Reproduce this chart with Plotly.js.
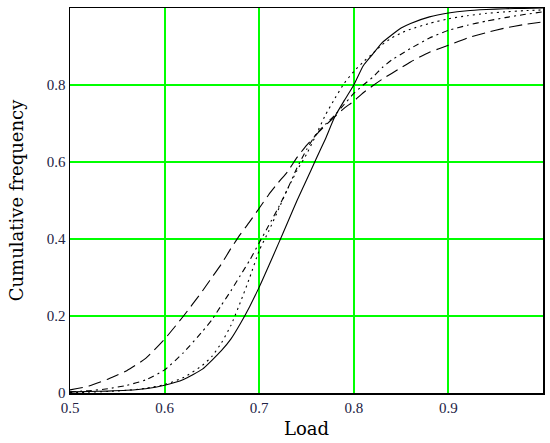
<!DOCTYPE html>
<html>
<head>
<meta charset="utf-8">
<script src="https://cdn.plot.ly/plotly-3.0.1.min.js"></script>
<style>html,body{margin:0;padding:0;background:#fff;}#chart{width:550px;height:443px;}</style>
</head>
<body>
<div id="chart"></div>
<script>
const loadX = [0.50,0.52,0.54,0.56,0.58,0.60,0.62,0.64,0.65,0.66,0.67,0.68,0.69,0.70,0.71,0.72,0.73,0.74,0.75,0.76,0.77,0.78,0.79,0.80,0.81,0.82,0.83,0.84,0.85,0.86,0.88,0.90,0.92,0.94,0.96,0.98,1.00];

const solidY   = [0.003,0.004,0.005,0.007,0.011,0.020,0.035,0.062,0.085,0.110,0.140,0.180,0.225,0.275,0.330,0.386,0.443,0.500,0.553,0.607,0.660,0.718,0.760,0.800,0.850,0.880,0.910,0.930,0.948,0.960,0.977,0.987,0.993,0.996,0.998,0.999,1.000];
const dottedY  = [0.001,0.002,0.004,0.007,0.012,0.022,0.040,0.072,0.095,0.130,0.175,0.235,0.300,0.370,0.420,0.475,0.530,0.578,0.620,0.670,0.722,0.765,0.805,0.835,0.860,0.882,0.905,0.922,0.935,0.945,0.960,0.972,0.980,0.986,0.990,0.993,0.995];
const dashDotY = [0.003,0.006,0.011,0.020,0.034,0.060,0.105,0.160,0.190,0.228,0.265,0.305,0.345,0.390,0.435,0.480,0.530,0.585,0.632,0.672,0.698,0.722,0.750,0.778,0.800,0.820,0.845,0.865,0.880,0.895,0.922,0.942,0.955,0.966,0.975,0.983,0.990];
const longDashY= [0.008,0.018,0.036,0.058,0.090,0.140,0.200,0.265,0.300,0.335,0.375,0.412,0.445,0.480,0.515,0.546,0.575,0.612,0.643,0.670,0.695,0.718,0.740,0.758,0.780,0.798,0.815,0.830,0.845,0.860,0.885,0.903,0.922,0.936,0.948,0.957,0.964];

const xTicks = [0.5,0.6,0.7,0.8,0.9];
const xTickText = ['0.5','0.6','0.7','0.8','0.9'];
const yTicks = [0,0.2,0.4,0.6,0.8];
const yTickText = ['0','0.2','0.4','0.6','0.8'];

function tr(y, dash){
  return {x: loadX, y: y, type: 'scatter', mode: 'lines',
    line: {color: '#000', width: 1.1, dash: dash, shape: 'spline', smoothing: 0.5},
    hoverinfo: 'skip', showlegend: false};
}

const data = [
  tr(longDashY, '13px,6px'),
  tr(dashDotY, '6px,4px,2px,4px'),
  tr(dottedY, '2px,4px'),
  tr(solidY, 'solid')
];

const tickFont = {family: 'Liberation Serif, Times New Roman, serif', size: 15, color: '#222244'};
const titleFont = {family: 'DejaVu Serif, serif', size: 18, color: '#000'};

const layout = {
  width: 550, height: 443,
  margin: {l: 70, r: 7, t: 8, b: 50},
  paper_bgcolor: '#fff', plot_bgcolor: '#fff',
  xaxis: {
    range: [0.5, 1.0], tickvals: xTicks, ticktext: xTickText,
    showgrid: true, gridcolor: '#00ff00', gridwidth: 2,
    zeroline: false, showline: true, mirror: true, linecolor: '#000', linewidth: 1.5,
    ticks: '', tickfont: tickFont,
    title: {text: 'Load', font: titleFont, standoff: 8}
  },
  yaxis: {
    range: [0, 1.0], tickvals: yTicks, ticktext: yTickText,
    showgrid: true, gridcolor: '#00ff00', gridwidth: 2,
    zeroline: false, showline: true, mirror: true, linecolor: '#000', linewidth: 1.5,
    ticks: '', tickfont: tickFont,
    title: {text: 'Cumulative frequency', font: titleFont, standoff: 18}
  }
};

Plotly.newPlot('chart', data, layout, {displayModeBar: false, staticPlot: true});
</script>
</body>
</html>
